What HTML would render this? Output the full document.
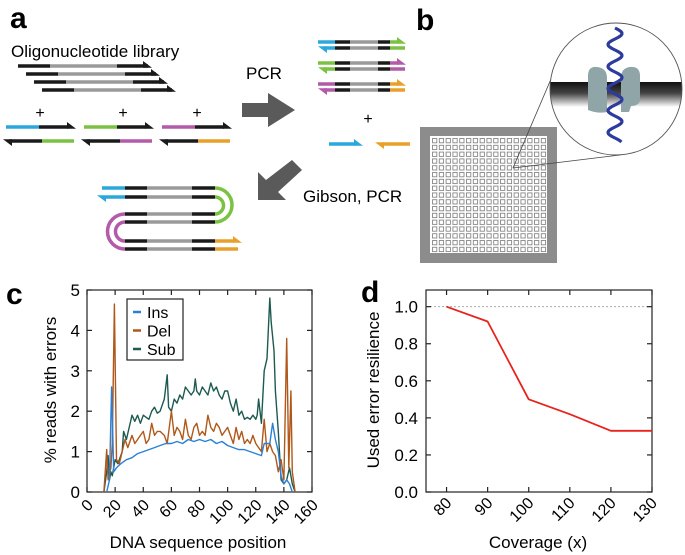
<!DOCTYPE html>
<html><head><meta charset="utf-8">
<style>
html,body{margin:0;padding:0;background:#fff;}
svg{display:block;font-family:"Liberation Sans",Arial,sans-serif;}
</style></head>
<body>
<svg id="fig" width="685" height="555" viewBox="0 0 685 555" xmlns="http://www.w3.org/2000/svg">
<defs>
<linearGradient id="memg" x1="0" y1="0" x2="0" y2="1">
<stop offset="0" stop-color="#111"/><stop offset="0.45" stop-color="#444"/><stop offset="1" stop-color="#fff"/>
</linearGradient>
<clipPath id="circclip"><circle cx="616" cy="89" r="66"/></clipPath>
</defs>
<text x="10" y="28" font-size="30" font-weight="bold">a</text>
<text x="416" y="30" font-size="30" font-weight="bold">b</text>
<text x="6" y="304" font-size="30" font-weight="bold">c</text>
<text x="361" y="302" font-size="30" font-weight="bold">d</text>

<g id="panelA">
<text x="11" y="57" font-size="17">Oligonucleotide library</text>
<text x="246" y="79" font-size="17">PCR</text>
<text x="303" y="202" font-size="17">Gibson, PCR</text>
<text x="40" y="118" font-size="16" text-anchor="middle">+</text>
<text x="123" y="118" font-size="16" text-anchor="middle">+</text>
<text x="197" y="118" font-size="16" text-anchor="middle">+</text>
<text x="368" y="124" font-size="16" text-anchor="middle">+</text>
<polygon points="242,103 268,103 268,93 295,110 268,127 268,117 242,117" fill="#5a5a5a"/>
<polygon points="292,160 302,170 278,192 286,200 258,200 258,172 266,180" fill="#5a5a5a"/>
</g>

<g id="panelB">
<rect x="420" y="127" width="137" height="136" fill="#8c8c8c"/>
<rect x="430" y="136" width="117" height="117" fill="#fff"/>
<g id="wells"></g>
<line x1="513" y1="168" x2="551" y2="79" stroke="#444" stroke-width="0.8"/>
<line x1="513" y1="168" x2="620" y2="155" stroke="#444" stroke-width="0.8"/>
<g clip-path="url(#circclip)">
<circle cx="616" cy="89" r="66" fill="#fff"/>
<rect x="550" y="82" width="135" height="25" fill="url(#memg)"/>
<path d="M588,110 L588,76 Q588,66 597,67 Q607,68 607,78 L607,112 Q598,114 588,110 Z" fill="#8fa5a8"/>
<path d="M621,112 L621,78 Q621,68 630,67 Q640,66 640,76 L640,100 Q639,106 631,106 L629,112 Z" fill="#8fa5a8"/>
<path id="helix" fill="none" stroke="#2d3c9c" stroke-width="3.2"/>
</g>
<circle cx="616" cy="89" r="66" fill="none" stroke="#555" stroke-width="0.9"/>
</g>

<g id="panelC"></g>
<g id="panelD"></g>
</svg>
<script>
const subX=[12,14,15,16,17,18,20,22,24,25,26,28,30,32,34,36,38,40,42,44,46,48,50,52,54,55,57,58,60,62,64,66,68,70,72,74,76,77,78,80,82,84,86,88,90,92,94,96,98,100,102,104,106,108,110,112,114,116,118,120,121,122,124,126,128,130,131,133,134,136,138,140,142,144,146,148];
const subY=[0,0.5,0.9,0.3,0.5,0.4,0.8,0.7,0.9,1.0,1.5,1.3,1.6,1.9,1.75,1.9,1.7,1.9,1.85,1.8,2.0,2.1,1.95,2.0,2.2,2.3,2.9,2.1,2.0,2.3,2.2,2.4,2.3,2.6,2.5,2.4,2.5,2.8,2.5,2.4,2.6,2.5,2.4,2.7,2.5,2.6,2.4,2.3,2.5,2.5,2.2,2.0,2.3,1.9,2.0,1.8,1.85,1.8,1.9,1.8,1.9,2.3,1.7,3.0,3.3,4.8,4.2,3.5,2.5,1.5,0.3,0.2,0.3,0.6,0.2,0];
const delX=[12,14,15,17,18,19.5,21,23,25,27,29,32,34,36,38,40,42,44,46,48,50,52,55,57,60,62,64,66,68,70,72,74,76,78,80,82,84,86,88,90,92,94,96,98,100,102,104,106,108,110,112,114,116,118,120,122,124,126,128,130,132,134,136,138,140,142,143.5,145,146,148];
const delY=[0,1.05,0.3,0.6,1.2,4.65,0.8,0.7,1.0,1.3,1.1,1.4,1.2,1.3,1.4,1.5,1.2,1.3,1.7,1.4,1.5,1.5,1.4,1.2,2.0,1.4,1.6,1.5,1.3,1.8,1.4,1.3,1.6,1.7,1.4,1.5,1.4,1.9,1.6,1.5,1.7,1.6,1.4,1.5,1.6,1.4,1.2,1.6,1.3,1.5,1.2,1.3,1.2,1.4,1.2,1.1,1.0,1.8,1.0,1.2,1.0,0.9,0.5,0.8,0.3,3.8,0.6,2.5,0.5,0];
const insX=[14,16,17.5,19,21,24,28,32,36,40,44,48,52,56,60,64,68,72,76,80,84,88,92,96,100,104,108,112,116,120,124,126,128,130,132,134,136,138,140,142,144,146];
const insY=[0,0.3,2.6,0.5,0.6,0.7,0.8,0.85,0.95,1.0,1.05,1.1,1.15,1.2,1.2,1.25,1.2,1.3,1.25,1.3,1.25,1.3,1.2,1.25,1.15,1.1,1.05,1.05,1.0,0.95,0.9,1.2,1.2,1.2,1.7,1.3,1.0,0.4,0.2,0.3,0.2,0];
const cXTicks=[0,20,40,60,80,100,120,140,160];
const cYTicks=[0,1,2,3,4,5];
const cLegend=["Ins","Del","Sub"];
const covX=[80,90,100,110,120,130];
const resY=[1.0,0.92,0.5,0.42,0.33,0.33];
const dXTicks=[80,90,100,110,120,130];
const dYTicks=["0.0","0.2","0.4","0.6","0.8","1.0"];

const NS="http://www.w3.org/2000/svg";
function mk(tag,attrs,parent){const e=document.createElementNS(NS,tag);for(const k in attrs)e.setAttribute(k,attrs[k]);parent.appendChild(e);return e;}

const A=document.getElementById('panelA');
const COL={k:"#1a1a1a",g:"#9a9a9a",b:"#2aa7dd",gr:"#7cc242",m:"#b35aa8",o:"#e9a02a"};
function seg(x1,x2,y,c){return mk('line',{x1:x1,y1:y,x2:x2,y2:y,stroke:c,'stroke-width':3.5},A);}
function headR(x,y,c){mk('polygon',{points:`${x},${y+1.7} ${x-9},${y-5} ${x-9},${y+1.7}`,fill:c},A);}
function headL(x,y,c){mk('polygon',{points:`${x},${y-1.7} ${x+9},${y+5} ${x+9},${y-1.7}`,fill:c},A);}
[[18,66],[26,74],[34,82],[42,90]].forEach(([x,y])=>{seg(x,x+32,y,COL.k);seg(x+32,x+99,y,COL.g);seg(x+99,x+126,y,COL.k);headR(x+134,y,COL.k);seg(x+126,x+130,y,COL.k);});
[[6,COL.b,COL.gr],[84,COL.gr,COL.m],[162,COL.m,COL.o]].forEach(([x,c1,c2])=>{
 seg(x,x+33,127,c1);seg(x+33,x+62,127,COL.k);headR(x+70,127,COL.k);
 seg(x+3,x+36,141,COL.k);headL(x-3,141,COL.k);seg(x+36,x+68,141,c2);
});
[[45,COL.b,COL.gr],[66,COL.gr,COL.m],[87,COL.m,COL.o]].forEach(([y,c1,c2])=>{
 [y-3,y+3].forEach((yy,i)=>{seg(i?324:318,335,yy,c1);seg(335,350,yy,COL.k);seg(350,378,yy,COL.g);seg(378,390,yy,COL.k);seg(390,i?405:399,yy,c2);});
 headR(406,y-3,c2);headL(318,y+3,c1);
});
seg(329,356,144,COL.b);headR(363,144,COL.b);
seg(383,410,144,COL.o);headL(375,144,COL.o);
[188,197,214,222,241,249].forEach(y=>{seg(125,147,y,COL.k);seg(147,192,y,COL.g);seg(192,215,y,COL.k);});
seg(102,125,188,COL.b);seg(106,125,197,COL.b);headL(97,197,COL.b);
seg(215,234,241,COL.o);headR(242,241,COL.o);seg(215,238,249,COL.o);
mk('path',{d:'M215,188 A17,17 0 0 1 215,222',fill:'none',stroke:COL.gr,'stroke-width':3.5},A);
mk('path',{d:'M215,197 A8.5,8.5 0 0 1 215,214',fill:'none',stroke:COL.gr,'stroke-width':3.5},A);
mk('path',{d:'M125,214 A17.5,17.5 0 0 0 125,249',fill:'none',stroke:COL.m,'stroke-width':3.5},A);
mk('path',{d:'M125,222 A9.5,9.5 0 0 0 125,241',fill:'none',stroke:COL.m,'stroke-width':3.5},A);

const W=document.getElementById('wells');
for(let i=0;i<17;i++)for(let j=0;j<17;j++){mk('rect',{x:432.5+i*6.8,y:138.5+j*6.8,width:4.3,height:4.3,fill:'#fff',stroke:'#888','stroke-width':0.9},W);}
(function(){let d='';for(let y=28;y<=142;y+=1){const x=615+7*Math.sin((y-28)/22*2*Math.PI);d+=(y===28?'M':'L')+x.toFixed(1)+','+y;}document.getElementById('helix').setAttribute('d',d);})();

const C=document.getElementById('panelC');
const cL=87,cR=312,cT=290,cB=492;
const cx=v=>cL+(v-0)/(160-0)*(cR-cL);
const cy=v=>cB-(v-0)/(5-0)*(cB-cT);
function axesBox(g,L,R,T,B){return mk('rect',{x:L,y:T,width:R-L,height:B-T,fill:'none',stroke:'#222','stroke-width':1.2},g);}
const cBox=axesBox(C,cL,cR,cT,cB);


cXTicks.forEach(t=>{
 mk('line',{x1:cx(t),y1:cB,x2:cx(t),y2:cB-5,stroke:'#222','stroke-width':1.2},C);
 mk('line',{x1:cx(t),y1:cT,x2:cx(t),y2:cT+5,stroke:'#222','stroke-width':1.2},C);
 const tx=mk('text',{x:cx(t)+7,y:cB+14,'font-size':16,'text-anchor':'end',transform:`rotate(-45 ${cx(t)+7} ${cB+14})`},C);
 tx.textContent=t;
 
 
});
cYTicks.forEach(t=>{
 mk('line',{x1:cL,y1:cy(t),x2:cL+5,y2:cy(t),stroke:'#222','stroke-width':1.2},C);
 mk('line',{x1:cR,y1:cy(t),x2:cR-5,y2:cy(t),stroke:'#222','stroke-width':1.2},C);
 const tx=mk('text',{x:cL-7,y:cy(t)+6,'font-size':17,'text-anchor':'end'},C);
 tx.textContent=t;
 
 
});
function series(g,xs,ys,fx,fy,color){return mk('polyline',{points:xs.map((x,i)=>fx(x).toFixed(1)+','+fy(ys[i]).toFixed(1)).join(' '),fill:'none',stroke:color,'stroke-width':1.4,'stroke-linejoin':'round'},g);}
const sSub=series(C,subX,subY,cx,cy,'#1d5a50');


const sDel=series(C,delX,delY,cx,cy,'#b0581a');


const sIns=series(C,insX,insY,cx,cy,'#2a80d6');


const lg=mk('g',{},C);


mk('rect',{x:127,y:299,width:56,height:61,fill:'#fff',stroke:'#222','stroke-width':1.2},lg);
const lcol=['#2a80d6','#b0581a','#1d5a50'];
cLegend.forEach((n,i)=>{
 const y=312+i*18.5;
 mk('line',{x1:133,y1:y,x2:141,y2:y,stroke:lcol[i],'stroke-width':2.5},lg);
 const t=mk('text',{x:147,y:y+6,'font-size':16},lg);
 t.textContent=n;
 
 
});
const cyl=mk('text',{x:0,y:0,'font-size':17,'text-anchor':'middle',transform:'translate(56 390) rotate(-90)'},C);
cyl.textContent='% reads with errors';


const cxl=mk('text',{x:198,y:548,'font-size':17,'text-anchor':'middle'},C);
cxl.textContent='DNA sequence position';



const D=document.getElementById('panelD');
const dL=426,dR=652,dT=290,dB=492;
const dx=v=>dL+(v-75)/(130-75)*(dR-dL);
const dy=v=>dB-(v-0)/(1.09-0)*(dB-dT);
const dBox=axesBox(D,dL,dR,dT,dB);


mk('line',{x1:dL,y1:dy(1),x2:dR,y2:dy(1),stroke:'#aaa','stroke-width':1,'stroke-dasharray':'2,2'},D);
dXTicks.forEach(t=>{
 mk('line',{x1:dx(t),y1:dB,x2:dx(t),y2:dB-5,stroke:'#222','stroke-width':1.2},D);
 mk('line',{x1:dx(t),y1:dT,x2:dx(t),y2:dT+5,stroke:'#222','stroke-width':1.2},D);
 const tx=mk('text',{x:dx(t)+6,y:dB+12,'font-size':16,'text-anchor':'end',transform:`rotate(-45 ${dx(t)+6} ${dB+12})`},D);
 tx.textContent=t;
 
 
});
dYTicks.forEach(t=>{
 const v=parseFloat(t);
 mk('line',{x1:dL,y1:dy(v),x2:dL+5,y2:dy(v),stroke:'#222','stroke-width':1.2},D);
 mk('line',{x1:dR,y1:dy(v),x2:dR-5,y2:dy(v),stroke:'#222','stroke-width':1.2},D);
 const tx=mk('text',{x:dL-8,y:dy(v)+6,'font-size':17,'text-anchor':'end'},D);
 tx.textContent=t;
 
 
});
const sRes=series(D,covX,resY,dx,dy,'#e8221c');
sRes.setAttribute('stroke-width','1.8');


const dyl=mk('text',{x:0,y:0,'font-size':17,'text-anchor':'middle',transform:'translate(379 390) rotate(-90)'},D);
dyl.textContent='Used error resilience';


const dxl=mk('text',{x:538,y:548,'font-size':17,'text-anchor':'middle'},D);
dxl.textContent='Coverage (x)';


</script>
</body></html>
